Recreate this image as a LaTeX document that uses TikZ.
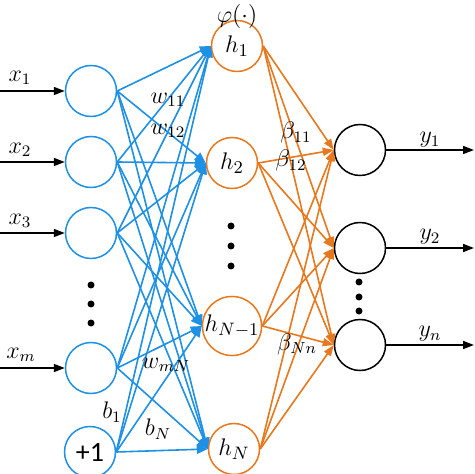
\documentclass[tikz,border=0pt]{standalone}
\usepackage{fontspec}
\newfontfamily\plusfont{Carlito}
\usetikzlibrary{arrows.meta}
\definecolor{nnblue}{RGB}{30,144,230}
\definecolor{nnorange}{RGB}{232,120,30}
\tikzset{
  neuron/.style={circle, draw, line width=0.75pt, minimum size=25.5pt, inner sep=0pt, font=\fontsize{13}{14}\selectfont},
  inneuron/.style={neuron, draw=nnblue},
  hidneuron/.style={neuron, draw=nnorange},
  outneuron/.style={neuron, draw=black},
  bluearrow/.style={draw=nnblue, line width=0.8pt, -{Triangle[length=5.5pt,width=4.5pt]}, fill=nnblue},
  orangearrow/.style={draw=nnorange, line width=0.8pt, -{Triangle[length=5.5pt,width=4pt]}},
  blackarrow/.style={draw=black, line width=0.8pt, -{Triangle[length=5.5pt,width=4pt]}},
  dotmark/.style={circle, fill=black, inner sep=0pt, minimum size=3.5pt},
  lbl/.style={inner sep=0pt, font=\fontsize{12}{13}\selectfont},
}
\begin{document}
\begin{tikzpicture}[x=0.5pt, y=-0.5pt]
\useasboundingbox (0,0) rectangle (474,474);
% input layer
\node[inneuron] (i1) at (91,91) {};
\node[inneuron] (i2) at (91,162) {};
\node[inneuron] (i3) at (91,233) {};
\node[inneuron] (im) at (91,368) {};
\node[inneuron] (ib) at (90,452) {\plusfont\fontsize{14}{14}\selectfont +1};
\node[dotmark] (di1) at (91,285) {};
\node[dotmark] (di2) at (91,304) {};
\node[dotmark] (di3) at (91,323) {};
% hidden layer
\node[hidneuron] (h1) at (237,46) {$h_1$};
\node[hidneuron] (h2) at (232,163) {$h_2$};
\node[hidneuron] (hn1) at (232,326) {$h_{N-1}$};
\node[hidneuron] (hn) at (234,449) {$h_N$};
\node[dotmark] (dh1) at (231,226) {};
\node[dotmark] (dh2) at (231,246) {};
\node[dotmark] (dh3) at (231,266) {};
\node[lbl] (phi) at (237,17) {$\varphi(\cdot)$};
% output layer
\node[outneuron] (o1) at (360,150) {};
\node[outneuron] (o2) at (360,248) {};
\node[outneuron] (on) at (360,345) {};
\node[dotmark] (do1) at (359,282) {};
\node[dotmark] (do2) at (359,297) {};
\node[dotmark] (do3) at (359,311) {};
% input arrows
\coordinate (s1) at (0,91);
\coordinate (s2) at (0,162);
\coordinate (s3) at (0,233);
\coordinate (sm) at (0,368);
\draw[blackarrow] (s1) -- (i1.west);
\draw[blackarrow] (s2) -- (i2.west);
\draw[blackarrow] (s3) -- (i3.west);
\draw[blackarrow] (sm) -- (im.west);
\node[lbl] (lx1) at (20,78) {$x_1$};
\node[lbl] (lx2) at (20,150) {$x_2$};
\node[lbl] (lx3) at (20,221) {$x_3$};
\node[lbl] (lxm) at (21,355) {$x_m$};
% output arrows
\coordinate (e1) at (474,150);
\coordinate (e2) at (474,248);
\coordinate (en) at (474,345);
\draw[blackarrow] (o1.east) -- (e1);
\draw[blackarrow] (o2.east) -- (e2);
\draw[blackarrow] (on.east) -- (en);
\node[lbl] (ly1) at (430,140) {$y_1$};
\node[lbl] (ly2) at (430,237) {$y_2$};
\node[lbl] (lyn) at (430,334) {$y_n$};
% blue connections
\foreach \i in {i1,i2,i3,im,ib}{
  \foreach \h in {h1,h2,hn1,hn}{
    \draw[bluearrow] (\i.east) -- (\h.west);
  }
}
% orange connections
\foreach \h in {h1,h2,hn1,hn}{
  \foreach \o in {o1,o2,on}{
    \draw[orangearrow] (\h.east) -- (\o.west);
  }
}
% weight labels
\node[lbl] (w11) at (168,100) {$w_{11}$};
\node[lbl] (w12) at (168,131) {$w_{12}$};
\node[lbl] (wmN) at (166,365) {$w_{mN}$};
\node[lbl] (b1) at (112,412) {$b_1$};
\node[lbl] (bN) at (158,429) {$b_N$};
\node[lbl] (be11) at (296,133) {$\beta_{11}$};
\node[lbl] (be12) at (291,161) {$\beta_{12}$};
\node[lbl] (beNn) at (297,344) {$\beta_{Nn}$};
\end{tikzpicture}
\end{document}
